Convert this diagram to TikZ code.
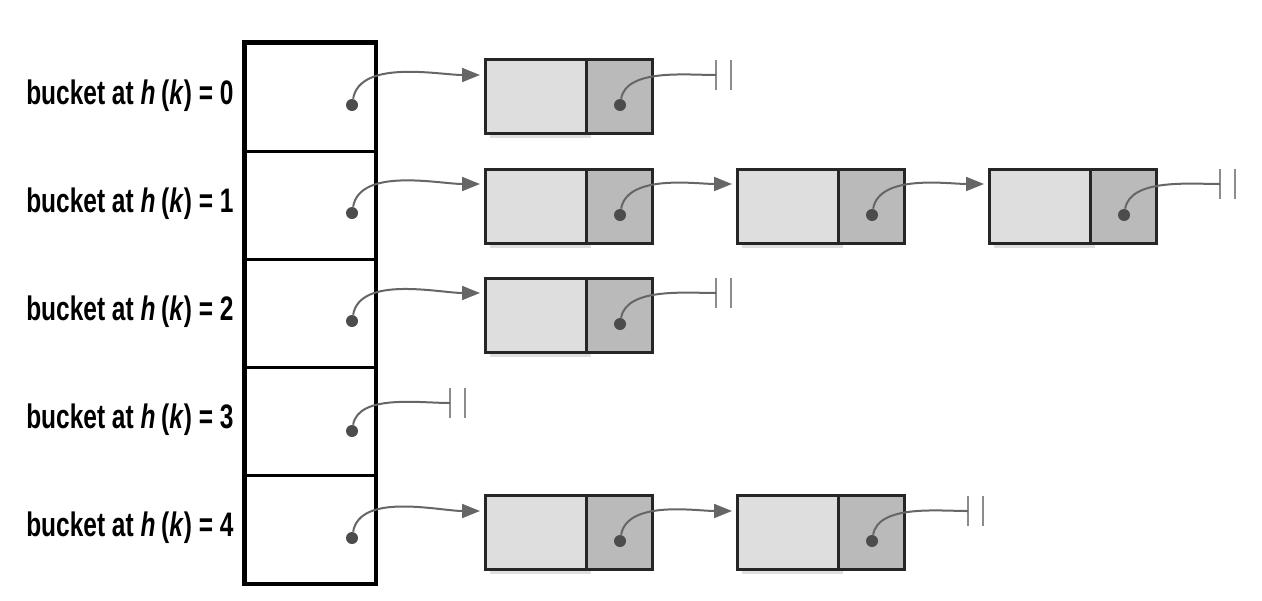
\documentclass[tikz,border=0pt]{standalone}
\usepackage{fontspec}
\setmainfont{Liberation Sans}[FakeStretch=0.72]
\usetikzlibrary{arrows.meta,shadows}
\begin{document}
\begin{tikzpicture}[x=0.5pt,y=-0.5pt,
  cellbox/.style={draw=black,line width=1.3pt,fill=white,minimum width=65pt,minimum height=54pt,inner sep=0pt,anchor=north west},
  keybox/.style={draw=black!85,line width=1.6pt,fill=black!13,minimum width=50.5pt,minimum height=37pt,inner sep=0pt,anchor=north west,drop shadow={shadow xshift=2pt,shadow yshift=-2pt,fill=black!25,opacity=0.5}},
  ptrbox/.style={draw=black!85,line width=1.6pt,fill=black!27,minimum width=33pt,minimum height=37pt,inner sep=0pt,anchor=north west},
  dotc/.style={circle,fill=black!70,inner sep=0pt,minimum size=6pt},
  link/.style={draw=black!60,line width=1pt,-{Triangle[length=9pt,width=7pt]}},
  nil/.style={draw=black!60,line width=1pt},
  bar/.style={draw=black!45,line width=1pt},
  lbl/.style={anchor=east,font=\bfseries\fontsize{17}{19}\selectfont,inner sep=0pt}]
\useasboundingbox (0,0) rectangle (1262,600);
% table
\foreach \i in {0,...,4}{
  \node[cellbox] (c\i) at (244,42+\i*108) {};
  \node[lbl] (l\i) at (234,96+\i*108) {bucket at \textit{h}\,(\textit{k}) = \i};
}
\draw[line width=1.6pt] (c0.north west) rectangle (c4.south east);
% list nodes
\newcommand{\lnode}[3]{%
  \node[keybox] (#1k) at (#2,#3) {};
  \node[ptrbox] (#1p) at (#2+101,#3) {};
  \node[dotc] (#1d) at (#2+136,#3+47) {};}
\lnode{a}{484}{58}
\lnode{b}{484}{168}
\lnode{c}{736}{168}
\lnode{d}{988}{168}
\lnode{e}{484}{277}
\lnode{f}{484}{494}
\lnode{g}{736}{494}
% bucket dots
\foreach \i/\y in {0/105,1/213,2/321,3/431,4/538}{
  \node[dotc] (bd\i) at (352,\y) {};
}
% terminators
\newcommand{\term}[3]{%
  \coordinate (#1) at (#2,#3);
  \draw[bar] (#2,#3-15) -- (#2,#3+15);
  \draw[bar] (#2+15,#3-15) -- (#2+15,#3+15);}
\term{ta}{716}{75}
\term{td}{1220}{184}
\term{te}{716}{293}
\term{tb3}{450}{403}
\term{tg}{968}{511}
\coordinate (ia) at (480,75);
\coordinate (ib) at (480,184);
\coordinate (ic) at (732,184);
\coordinate (id) at (984,184);
\coordinate (ie) at (480,293);
\coordinate (if) at (480,511);
\coordinate (ig) at (732,511);
% links
\tikzset{cv/.style={out=80,in=180,looseness=0.8}}
\draw[link] (bd0) to[cv] (ia);
\draw[link] (bd1) to[cv] (ib);
\draw[link] (bd2) to[cv] (ie);
\draw[link] (bd4) to[cv] (if);
\draw[link] (bd) to[cv] (ic);
\draw[link] (cd) to[cv] (id);
\draw[link] (fd) to[cv] (ig);
\draw[nil] (bd3) to[cv] (tb3);
\draw[nil] (ad) to[cv] (ta);
\draw[nil] (dd) to[cv] (td);
\draw[nil] (ed) to[cv] (te);
\draw[nil] (gd) to[cv] (tg);
\end{tikzpicture}
\end{document}
